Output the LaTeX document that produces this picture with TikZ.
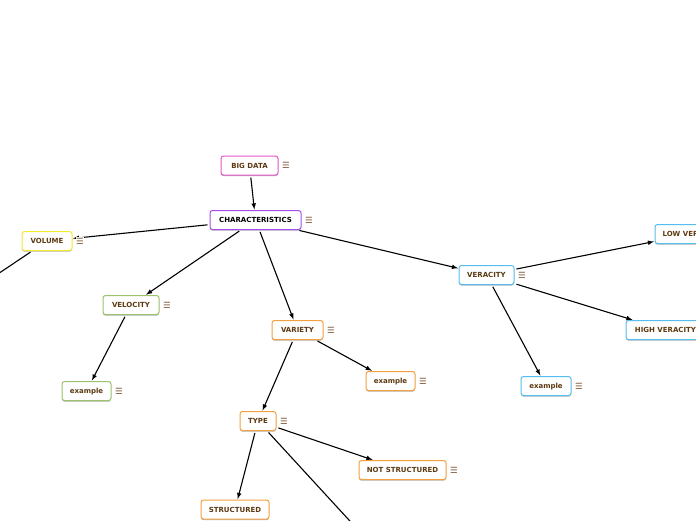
\documentclass[tikz,border=0pt]{standalone}
\usepackage{fontspec}
\setmainfont{DejaVu Sans}
\usetikzlibrary{shadows}
\definecolor{labelbrown}{HTML}{5C3A12}
\definecolor{iconbrown}{HTML}{7A5230}
\definecolor{topicpink}{HTML}{E655C8}
\definecolor{topicpurple}{HTML}{A64DF0}
\definecolor{topicyellow}{HTML}{F5E92E}
\definecolor{topicgreen}{HTML}{9CC26B}
\definecolor{topicorange}{HTML}{F5A040}
\definecolor{topicblue}{HTML}{55BDF0}
\tikzset{
	topic/.style={draw, rounded corners=2.5pt, line width=1pt, fill=white, inner sep=0pt,
		text=labelbrown, font=\fontsize{7}{8}\selectfont\bfseries, minimum height=19pt,
		text height=5pt, text depth=0pt,
		drop shadow={shadow xshift=0pt, shadow yshift=-1.2pt, fill=black!60, opacity=0.5}},
	link/.style={->, >=latex, line width=1.1pt, shorten <=2pt, shorten >=0.5pt},
	menuicon/.style={anchor=west, fill=white, inner sep=0.5pt, text=iconbrown,
		font=\fontsize{8.5}{9}\selectfont}
}
\begin{document}
\begin{tikzpicture}[x=1pt, y=-1pt]
	\useasboundingbox (0,0) rectangle (696,520);
	\clip (0,0) rectangle (696,520);
	\coordinate (volumeout) at (-20,286);
	\coordinate (typeout) at (360,532);
	\node[topic, draw=topicpink, minimum width=57pt] (bigdata) at (249.5,165.5) {BIG DATA};
	\node[topic, draw=topicpurple, minimum width=91pt, text=black] (charact) at (255.5,220) {CHARACTERISTICS};
	\node[topic, draw=topicyellow, minimum width=50pt] (volume) at (47,241) {VOLUME};
	\node[topic, draw=topicgreen, minimum width=56pt] (velocity) at (131,305) {VELOCITY};
	\node[topic, draw=topicgreen, minimum width=49pt] (velexample) at (86.5,391) {example};
	\node[topic, draw=topicorange, minimum width=51pt] (variety) at (297.5,330) {VARIETY};
	\node[topic, draw=topicorange, minimum width=49pt] (varexample) at (390.5,381) {example};
	\node[topic, draw=topicorange, minimum width=36pt] (type) at (258,421) {TYPE};
	\node[topic, draw=topicorange, minimum width=87pt] (notstruct) at (402.5,470) {NOT STRUCTURED};
	\node[topic, draw=topicorange, minimum width=68pt] (struct) at (235,509.5) {STRUCTURED};
	\node[topic, draw=topicblue, minimum width=55pt] (veracity) at (486.5,275) {VERACITY};
	\node[topic, draw=topicblue, minimum width=50pt] (verexample) at (546,386) {example};
	\node[topic, draw=topicblue, minimum width=74pt] (lowver) at (692,234) {LOW VERACITY};
	\node[topic, draw=topicblue, minimum width=79pt] (highver) at (665.5,330) {HIGH VERACITY};
	% links
	\draw[link] (bigdata) -- (charact);
	\draw[link] (charact) -- (volume);
	\draw[link] (charact) -- (velocity);
	\draw[link] (charact) -- (variety);
	\draw[link] (charact) -- (veracity);
	\draw[link] (volume) -- (volumeout);
	\draw[link] (velocity) -- (velexample);
	\draw[link] (variety) -- (type);
	\draw[link] (variety) -- (varexample);
	\draw[link] (type) -- (struct);
	\draw[link] (type) -- (notstruct);
	\draw[link] (type) -- (typeout);
	\draw[link] (veracity) -- (lowver);
	\draw[link] (veracity) -- (highver);
	\draw[link] (veracity) -- (verexample);
	\foreach \n in {bigdata,charact,volume,velocity,velexample,variety,varexample,type,notstruct,veracity,verexample}
	{
		\node[menuicon] (\n icon) at ([xshift=3pt]\n.east) {☰};
	}
\end{tikzpicture}
\end{document}
